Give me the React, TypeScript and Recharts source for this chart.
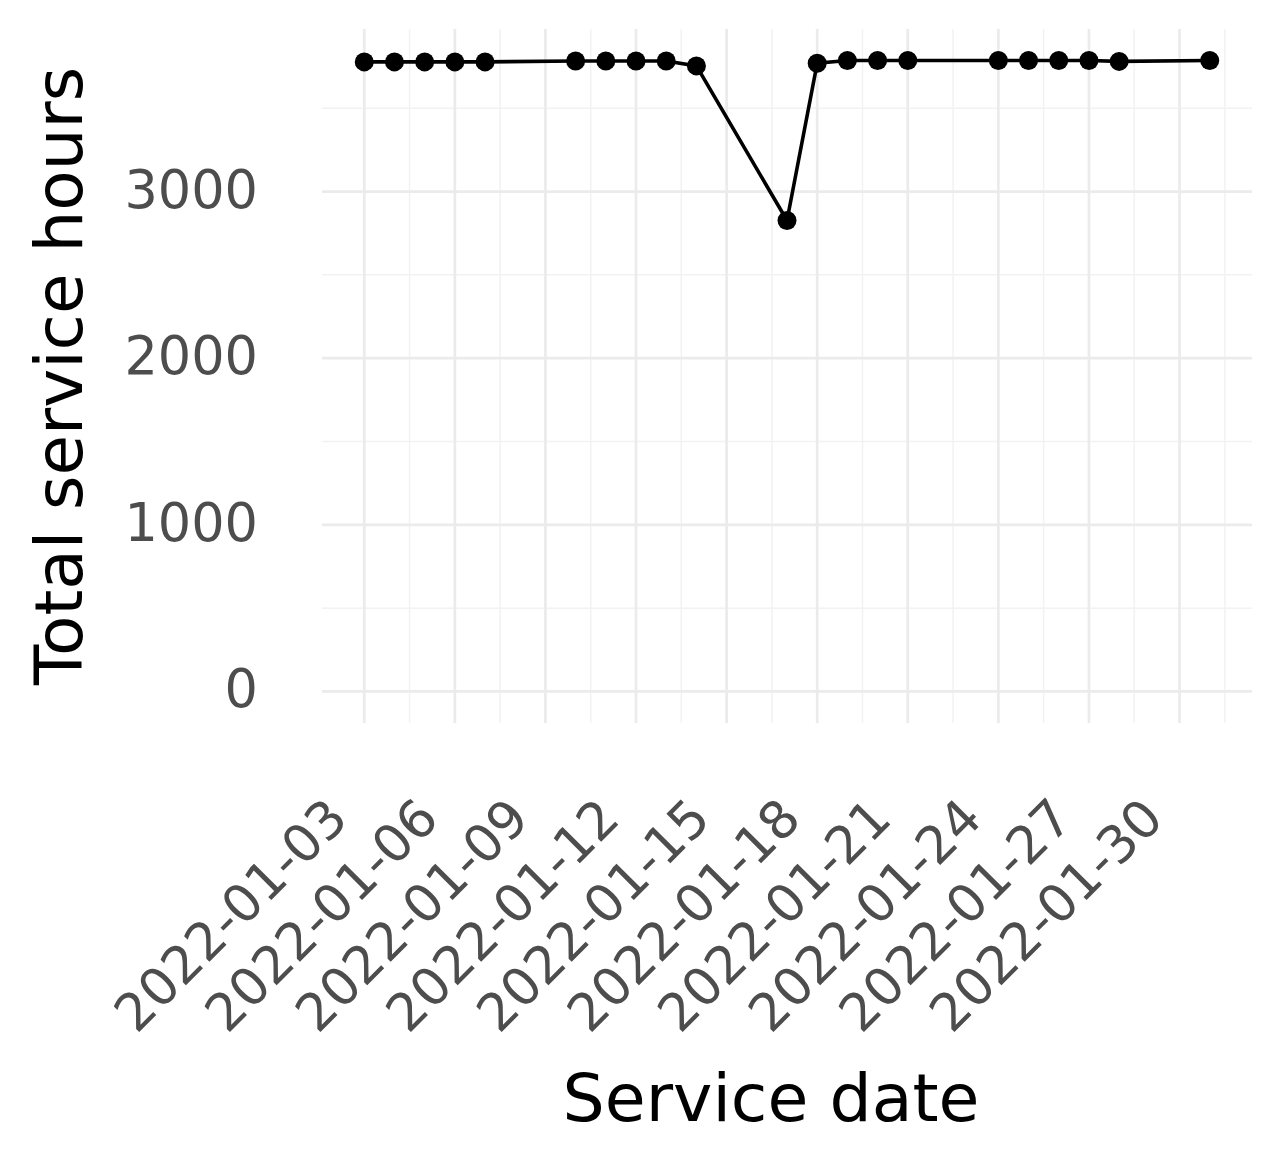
import { LineChart, Line, XAxis, YAxis, CartesianGrid } from 'recharts';

// Weekday service totals, January 2022
const serviceDates = [
  '2022-01-03', '2022-01-04', '2022-01-05', '2022-01-06', '2022-01-07',
  '2022-01-10', '2022-01-11', '2022-01-12', '2022-01-13', '2022-01-14',
  '2022-01-17', '2022-01-18', '2022-01-19', '2022-01-20', '2022-01-21',
  '2022-01-24', '2022-01-25', '2022-01-26', '2022-01-27', '2022-01-28',
  '2022-01-31',
];
const serviceHours = [
  3778, 3778, 3778, 3778, 3778,
  3783, 3783, 3783, 3783, 3754,
  2826, 3770, 3786, 3786, 3786,
  3786, 3786, 3786, 3786, 3781,
  3786,
];
const xTickDates = [
  '2022-01-03', '2022-01-06', '2022-01-09', '2022-01-12', '2022-01-15',
  '2022-01-18', '2022-01-21', '2022-01-24', '2022-01-27', '2022-01-30',
];
const xMinorDates = [
  '2022-01-04T12:00:00Z', '2022-01-07T12:00:00Z', '2022-01-10T12:00:00Z',
  '2022-01-13T12:00:00Z', '2022-01-16T12:00:00Z', '2022-01-19T12:00:00Z',
  '2022-01-22T12:00:00Z', '2022-01-25T12:00:00Z', '2022-01-28T12:00:00Z',
  '2022-01-31T12:00:00Z',
];
const yTicks = [0, 1000, 2000, 3000];
const yMinor = [500, 1500, 2500, 3500];

const toTime = (s: string) => Date.parse(s.length === 10 ? `${s}T00:00:00Z` : s);
const fmtDate = (t: number) => new Date(t).toISOString().slice(0, 10);

const data = serviceDates.map((d, i) => ({ t: toTime(d), hours: serviceHours[i] }));

const tMin = toTime(serviceDates[0]);
const tMax = toTime(serviceDates[serviceDates.length - 1]);
const tPad = (tMax - tMin) * 0.05;
const yMax = Math.max(...serviceHours);
const yPad = yMax * 0.05;

const FONT = '"DejaVu Sans", sans-serif';
const GRID = '#ebebeb';

const XTick = ({ x, payload }: any) => (
  <text
    x={x - 14}
    y={821}
    transform={`rotate(-45, ${x - 14}, 821)`}
    textAnchor="end"
    fontSize={52}
    fontFamily={FONT}
    fill="#4d4d4d"
  >
    {fmtDate(payload.value)}
  </text>
);

const YTick = ({ y, payload }: any) => (
  <text x={258} y={y + 16} textAnchor="end" fontSize={52.5} fontFamily={FONT} fill="#4d4d4d">
    {payload.value}
  </text>
);

export default function App() {
  return (
    <div style={{ position: 'absolute', left: 0, top: 0, background: '#fff' }}>
      <LineChart width={1281} height={1164} data={data} margin={{ top: 29, right: 29, bottom: 0, left: 0 }}>
        <CartesianGrid
          stroke="#f2f2f2"
          strokeWidth={1.5}
          horizontalValues={yMinor}
          verticalValues={xMinorDates.map(toTime)}
        />
        <CartesianGrid
          stroke={GRID}
          strokeWidth={2.7}
          horizontalValues={yTicks}
          verticalValues={xTickDates.map(toTime)}
        />
        <XAxis
          dataKey="t"
          type="number"
          domain={[tMin - tPad, tMax + tPad]}
          ticks={xTickDates.map(toTime)}
          height={441}
          axisLine={false}
          tickLine={false}
          tick={<XTick />}
          interval={0}
          label={{
            content: () => (
              <text x={771} y={1121} textAnchor="middle" fontSize={66.5} fontFamily={FONT} fill="#000">
                Service date
              </text>
            ),
          }}
        />
        <YAxis
          type="number"
          domain={[-yPad, yMax + yPad]}
          ticks={yTicks}
          width={322}
          axisLine={false}
          tickLine={false}
          tick={<YTick />}
          interval={0}
          label={{
            content: () => (
              <text
                x={82}
                y={376}
                transform="rotate(-90, 82, 376)"
                textAnchor="middle"
                fontSize={66}
                fontFamily={FONT}
                fill="#000"
              >
                Total service hours
              </text>
            ),
          }}
        />
        <Line
          type="linear"
          dataKey="hours"
          stroke="#000"
          strokeWidth={3.6}
          dot={{ r: 9.5, fill: '#000', stroke: 'none' }}
          isAnimationActive={false}
        />
      </LineChart>
    </div>
  );
}
